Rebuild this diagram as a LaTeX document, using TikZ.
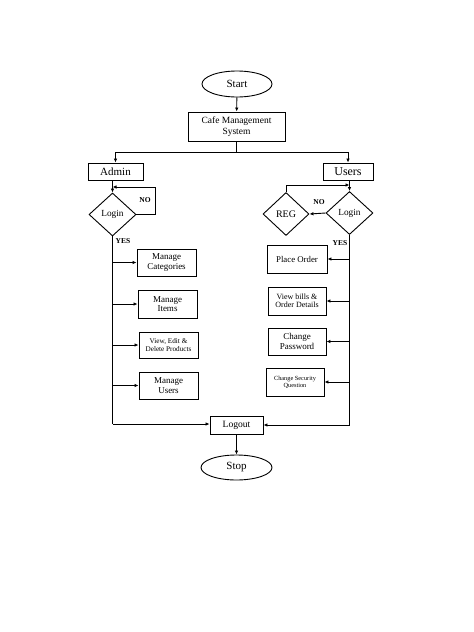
\documentclass[tikz,border=0pt]{standalone}
\usepackage{fontspec}
\setmainfont{Liberation Serif}
\usetikzlibrary{shapes.geometric,arrows.meta}
\newcommand{\fs}[1]{\fontsize{#1pt}{\dimexpr #1pt*12/10\relax}\selectfont}
\begin{document}
\begin{tikzpicture}[x=1pt,y=-1pt,
  line width=0.9pt,
  >={Latex[length=4pt,width=3.5pt]},
  box/.style={draw,rectangle,inner sep=0pt,align=center},
  term/.style={draw,ellipse,inner sep=0pt,minimum width=70pt,minimum height=26pt},
  dia/.style={draw,diamond,inner sep=0pt,minimum width=47pt,minimum height=43pt},
  lbl/.style={font=\bfseries\fs{7.5}}
]
\useasboundingbox (0,0) rectangle (474,632);

\node[term,font=\fs{11}] (start) at (237,84) {Start};
\node[box,minimum width=97pt,minimum height=29pt,font=\fs{9.5}] (cms) at (236.5,126.5) {Cafe Management\\[-1pt]System};
\node[box,minimum width=55pt,minimum height=17pt,font=\fs{11}] (admin) at (115.5,171.5) {Admin};
\node[box,minimum width=50pt,minimum height=17pt,font=\fs{12}] (users) at (348,171.5) {Users};

\node[dia,font=\fs{9.3}] (loginA) at (112.5,214.5) {Login};
\node[dia,font=\fs{9.3}] (loginU) at (349.5,213) {Login};
\node[dia,minimum width=46pt,font=\fs{10}] (reg) at (286,214) {REG};

\node[box,minimum width=59pt,minimum height=27pt,font=\fs{9}] (mcat) at (166.5,262.5) {Manage\\[-1.5pt]Categories};
\node[box,minimum width=59pt,minimum height=28pt,font=\fs{9}] (mitem) at (167.5,304) {Manage\\[-1.5pt]Items};
\node[box,minimum width=59pt,minimum height=26pt,font=\fs{7.2}] (view) at (168.5,345) {View, Edit \&\\[-1.5pt]Delete Products};
\node[box,minimum width=59pt,minimum height=27pt,font=\fs{9}] (muser) at (168.5,385.5) {Manage\\[-1.5pt]Users};

\node[box,minimum width=60pt,minimum height=28pt,font=\fs{8.8}] (place) at (297,259) {Place Order};
\node[box,minimum width=58pt,minimum height=28pt,font=\fs{8}] (bills) at (297,301) {View bills \&\\[-1.5pt]Order Details};
\node[box,minimum width=58pt,minimum height=27pt,font=\fs{9}] (pass) at (297,341.5) {Change\\[-1.5pt]Password};
\node[box,minimum width=58pt,minimum height=28pt,font=\fs{6.3}] (secq) at (295,382) {Change Security\\[-0.5pt]Question};

\node[box,minimum width=53pt,minimum height=18pt,font=\fs{9.6}] (logout) at (236.5,425) {Logout};
\node[term,minimum width=71pt,minimum height=25pt,font=\fs{11}] (stop) at (236.5,467.5) {Stop};

\node[lbl] (noA) at (145,200) {NO};
\node[lbl] (yesA) at (123,241) {YES};
\node[lbl] (noU) at (319,202) {NO};
\node[lbl] (yesU) at (340,243) {YES};

% top
\draw[->] (start) -- (cms);
\coordinate (split) at (cms.south |- 0,152);
\draw[->] (cms.south) -- (split) -| (admin.north);
\draw[->] (split) -| (users.north);

% admin side
\draw[->] (admin.south -| loginA.north) -- (loginA.north);
\coordinate (noloopA) at (loginA.north |- 0,187);
\draw[->] (loginA.east) -- (155,214.5) |- (noloopA);
\coordinate (botA) at (loginA.south |- 0,424);
\draw (loginA.south) -- (botA);
\draw[->] (botA) -- (logout.west |- botA);
\draw[->] (loginA.south |- mcat.west) -- (mcat.west);
\draw[->] (loginA.south |- mitem.west) -- (mitem.west);
\draw[->] (loginA.south |- view.west) -- (view.west);
\draw[->] (loginA.south |- muser.west) -- (muser.west);

% user side
\draw[->] (users.south -| loginU.north) -- (loginU.north);
\draw[->] (loginU.west) -- (reg.east);
\coordinate (regloop) at (loginU.north |- 0,185);
\draw[->] (reg.north) |- (regloop);
\coordinate (botU) at (loginU.south |- 0,425);
\draw (loginU.south) -- (botU);
\draw[->] (botU) -- (logout.east |- botU);
\draw[->] (loginU.south |- place.east) -- (place.east);
\draw[->] (loginU.south |- bills.east) -- (bills.east);
\draw[->] (loginU.south |- pass.east) -- (pass.east);
\draw[->] (loginU.south |- secq.east) -- (secq.east);

\draw[->] (logout) -- (stop);
\end{tikzpicture}
\end{document}
